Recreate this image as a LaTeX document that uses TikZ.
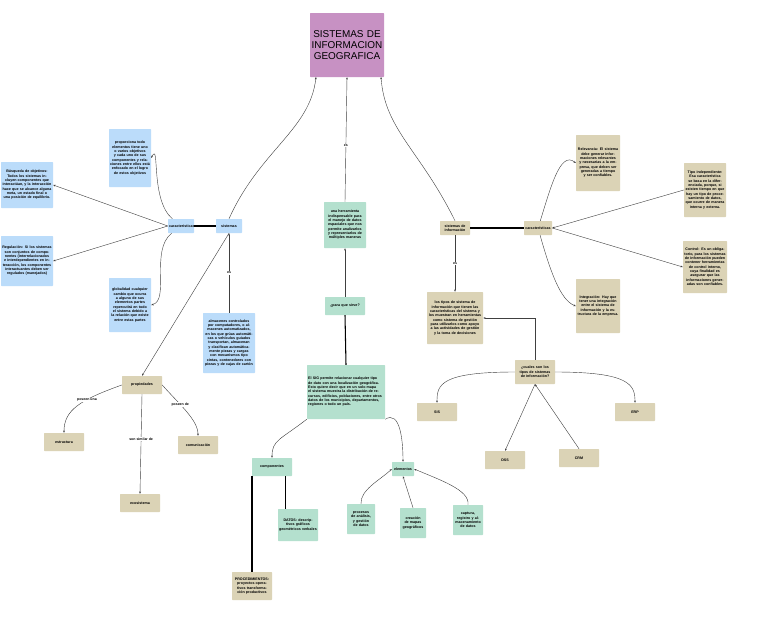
\documentclass[tikz,border=0pt]{standalone}
\usepackage{fontspec}
\setmainfont{Liberation Sans}
\usetikzlibrary{arrows.meta}
\definecolor{cb}{HTML}{BBDCFA}
\definecolor{cg}{HTML}{B4E0CE}
\definecolor{ct}{HTML}{DBD3B6}
\definecolor{cp}{HTML}{C791C3}
\begin{document}
\begin{tikzpicture}[x=0.03cm,y=-0.03cm,
 sz/.code 2 args={\pgfmathsetlengthmacro\tw{#1*0.03cm-2pt}\tikzset{text width=\tw,minimum width=#1*0.03cm,minimum height=#2*0.03cm}},
 bx/.style={draw=none,align=center,inner sep=1pt,font=\fontsize{3.1}{3.7}\selectfont\bfseries,rounded corners=0.5pt},
 B/.style={bx,fill=cb}, G/.style={bx,fill=cg}, T/.style={bx,fill=ct},
 ln/.style={draw=black!75,line width=0.35pt,-{Stealth[length=2pt,width=1.6pt]}},
 thk/.style={draw=black,line width=0.9pt},
 lb/.style={font=\fontsize{3}{3.5}\selectfont\bfseries,fill=white,inner sep=0.5pt}]
\useasboundingbox (0,0) rectangle (768,640);
\fill[white] (0,0) rectangle (768,640);
% title
\node[bx,fill=cp,sz={74}{64},font=\fontsize{8.5}{9.5}\selectfont] (title) at (347,45) {SISTEMAS DE INFORMACION GEOGRAFICA};
% blue side
\node[B,sz={26}{14}] (car) at (181,226) {caracteristicas};
\node[B,sz={26}{14}] (sis) at (229,226) {sistemas};
\node[B,sz={42}{58}] (b1) at (130,158) {proporciona todo elementos tiene uno o varios objetivos y cada uno de sus componentes y relaciones entre ellos está enfocado en el logro de estos objetivos};
\node[B,sz={52}{46}] (b2) at (27,185) {Búsqueda de objetivos: Todos los sistemas incluyen componentes que interactúan, y la interacción hace que se alcance alguna meta, un estado final o una posición de equilibrio.};
\node[B,sz={52}{50}] (b3) at (27,261) {Regulación: Si los sistemas son conjuntos de componentes (interrelacionados e interdependientes en interacción, los componentes interactuantes deben ser regulados (manejados)};
\node[B,sz={42}{54}] (b4) at (130,305) {globalidad cualquier cambio que ocurra a alguno de sus elementos partes repercutirá en todo el sistema debido a la relación que existe entre estas partes};
\node[B,sz={52}{60}] (b5) at (229,343) {almacenes controlados por computadores, o almacenes automatizados, en los que grúas automáticas o vehículos guiados transportan, almacenan y clasifican automáticamente piezas y cargas con mecanismos tipo cintas, contenedores con piezas y de cajas de cartón};
% green center
\node[G,sz={42}{46}] (g1) at (345,225) {una herramienta indispensable para el manejo de datos espaciales que nos permite analizarlos y representarlos de múltiples maneras};
\node[G,sz={40}{18}] (g2) at (345,306) {¿para que sirve?};
\node[G,sz={78}{54},align=left] (g3) at (346,392) {El SIG permite relacionar cualquier tipo de dato con una localización geográfica. Esto quiere decir que en un solo mapa el sistema muestra la distribución de recursos, edificios, poblaciones, entre otros datos de los municipios, departamentos, regiones o todo un país.};
\node[G,sz={40}{18}] (comp) at (272,467) {componentes};
\node[G,sz={40}{32}] (dat) at (298,525) {DATOS: descriptivos gráficos geométricos verbales};
\node[T,sz={40}{28}] (proc) at (252,586) {PROCEDIMIENTOS: proyectos operativos transformación productivos};
\node[G,sz={22}{14}] (ele) at (403,469) {elementos};
\node[G,sz={28}{30}] (e1) at (361,519) {procesos de análisis, y gestión de datos};
\node[G,sz={26}{30}] (e2) at (413,523) {creación de mapas geográficos};
\node[G,sz={30}{30}] (e3) at (468,520) {captura, registro y almacenamiento de datos};
% tan right
\node[T,sz={30}{14}] (si) at (455,228) {sistemas de información};
\node[T,sz={28}{14}] (car2) at (538,228) {características};
\node[T,sz={44}{56}] (t1) at (598,163) {Relevancia: El sistema debe generar informaciones relevantes y necesarias a la empresa, que deben ser generadas a tiempo y ser confiables.};
\node[T,sz={42}{54}] (t2) at (705,190) {Tipo independiente: Esa característica se basa en la diferenciada, porque, si existen tiempo en que hay un tipo de procesamiento de datos, que ocurre de manera interna y externa.};
\node[T,sz={44}{52}] (t3) at (705,267) {Control: Es un obligatorio, para los sistemas de información pueden contener herramientas de control interno, cuya finalidad es asegurar que las informaciones generadas son confiables.};
\node[T,sz={44}{54}] (t4) at (598,306) {Integración: Hay que tener una integración entre el sistema de información y la estructura de la empresa.};
\node[T,sz={56}{52}] (t5) at (455,318) {los tipos de sistema de información que tienen las características del sistema y los muestran en herramientas como sistema de gestión para utilizarlos como apoyo a las actividades de gestión y la toma de decisiones};
\node[T,sz={40}{24}] (cual) at (535,372) {¿cuales son los tipos de sistemas de información?};
\node[T,sz={40}{18}] (sis2) at (437,412) {SIS};
\node[T,sz={40}{18}] (erp) at (635,412) {ERP};
\node[T,sz={40}{18}] (dss) at (505,460) {DSS};
\node[T,sz={40}{18}] (crm) at (579,458) {CRM};
% propiedades
\node[T,sz={40}{18}] (prop) at (142,385) {propiedades};
\node[T,sz={40}{18}] (est) at (64,442) {estructura};
\node[T,sz={40}{18}] (comu) at (198,445) {comunicación};
\node[T,sz={40}{18}] (eco) at (140,503) {ecosistema};
% edges
\draw[ln] (g1.north) -- node[lb,pos=0.45]{es} (title.south);
\draw[ln] (sis.north) .. controls (260,150) and (310,130) .. (316,77);
\draw[ln] (si.north) .. controls (420,150) and (385,130) .. (381,77);
\draw[thk] (car.east) -- (sis.west);
\draw[ln] (car) .. controls (150,200) and (160,140) .. (b1.east);
\draw[ln] (car.west) -- (b2.east);
\draw[ln] (car.west) -- (b3.east);
\draw[ln] (car) .. controls (150,250) and (170,300) .. (b4.east);
\draw[ln] (b5.north) -- node[lb]{es} (sis.south);
\draw[ln] (sis.south) -- (prop.north);
\draw[ln] (g2.north) -- (g1.south);
\draw[thk] (g2.south) -- (g3.north);
\draw[ln] (g3.south west) .. controls (280,440) and (272,440) .. (comp.north);
\draw[ln] (g3.south east) .. controls (400,410) and (403,440) .. (ele.north);
\draw[thk] (comp.south -| proc.north) -- (proc.north);
\draw[thk] (comp.south -| dat.north west) ++(8,0) -- ++(0,33);
\draw[ln] (e1.north) .. controls (360,490) and (380,480) .. (ele.west);
\draw[ln] (e2.north) -- (ele.south);
\draw[ln] (e3.north) .. controls (470,490) and (440,480) .. (ele.east);
\draw[thk] (si.east) -- (car2.west);
\draw[ln] (car2) .. controls (550,190) and (560,150) .. (t1.west);
\draw[ln] (t2.west) -- (car2.east);
\draw[ln] (car2.east) -- (t3.west);
\draw[ln] (car2) .. controls (550,270) and (560,300) .. (t4.west);
\draw[ln] (si.south) -- node[lb]{es} (t5.north);
\draw[ln] (cual.north) |- (t5.east);
\draw[ln] (cual.west) .. controls (440,372) and (437,385) .. (sis2.north);
\draw[ln] (cual.east) .. controls (630,372) and (635,385) .. (erp.north);
\draw[ln] (cual.south) -- (dss.north);
\draw[ln] (crm.north) -- (cual.south);
\draw[ln] (prop.west) .. controls (80,400) and (64,410) .. node[lb,pos=0.35]{poseen una} (est.north);
\draw[ln] (prop.east) .. controls (180,405) and (198,420) .. node[lb,pos=0.35]{poseen de} (comu.north);
\draw[ln] (prop.south) -- node[lb,pos=0.45]{son similar de} (eco.north);
\end{tikzpicture}
\end{document}
